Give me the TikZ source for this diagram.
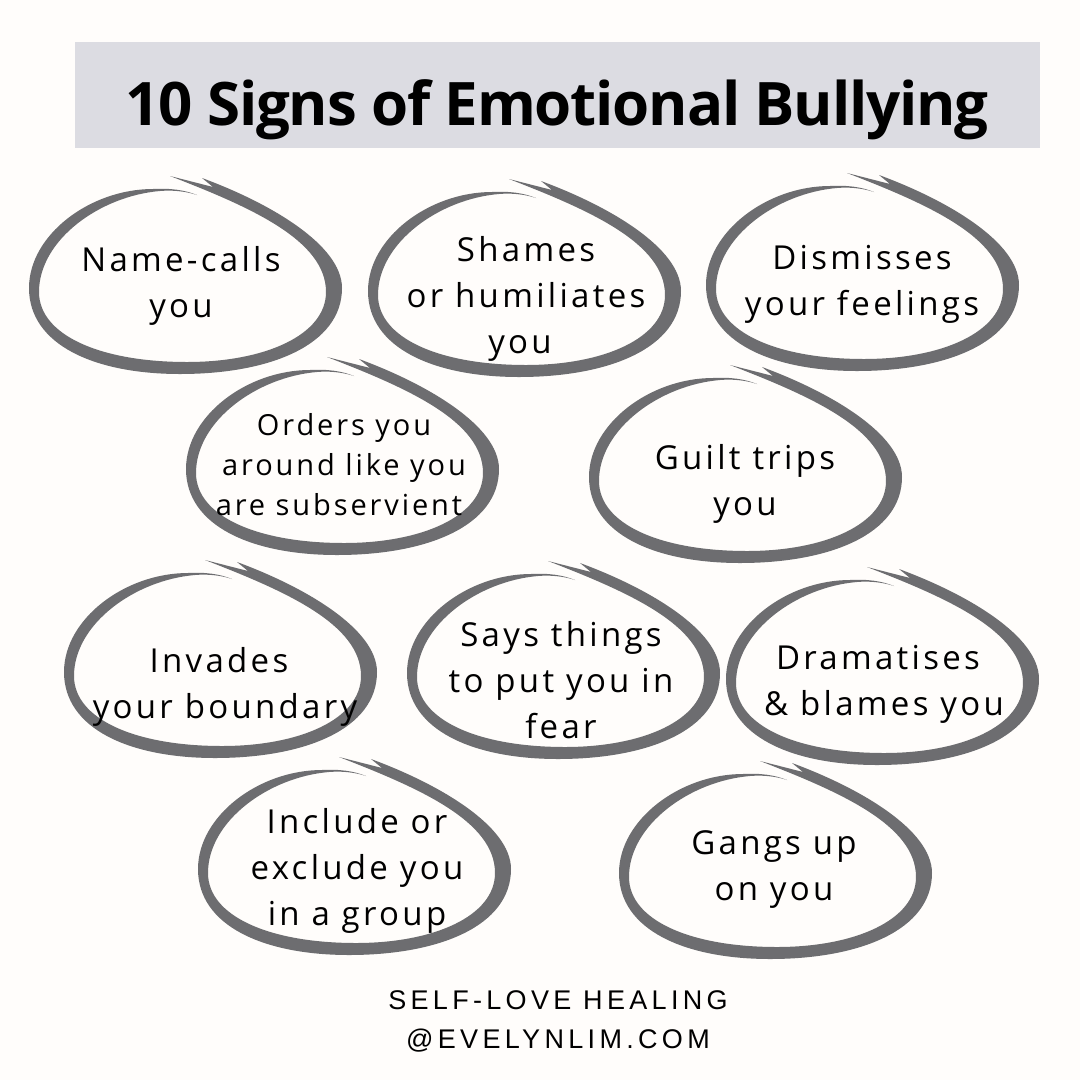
\documentclass[tikz,border=0pt]{standalone}
\usepackage{fontspec}
\setmainfont{Open Sans}
\newfontfamily\titlefont[LetterSpace=-2]{Open Sans}
\newfontfamily\signfont[LetterSpace=10]{Open Sans}
\newfontfamily\smallfont[LetterSpace=10]{Open Sans}
\newfontfamily\footfont[LetterSpace=16]{Liberation Sans}
\definecolor{paper}{HTML}{FFFDFB}
\definecolor{banner}{HTML}{DCDCE2}
\definecolor{ringgrey}{HTML}{6D6D70}
\newcommand{\tsp}{\hspace*{12pt}}
\tikzset{
  signtext/.style={align=center,text=black,inner sep=0pt,font=\signfont\fontsize{33}{46}\selectfont},
  smalltext/.style={align=center,text=black,inner sep=0pt,font=\smallfont\fontsize{29}{40}\selectfont},
  ring/.pic={
    \fill[ringgrey] (170,176) -- (213,187) -- (202,178)
      .. controls (270,203) and (342,245) .. (342,288)
      .. controls (342,345) and (270,374) .. (180,374)
      .. controls (95,374) and (29,345) .. (29,288)
      .. controls (29,235) and (90,189) .. (153,189)
      .. controls (170,188) and (185,190) .. (197,195)
      .. controls (185,191) and (172,190) .. (160,191)
      .. controls (100,196) and (39,240) .. (39,292)
      .. controls (39,335) and (100,362) .. (187,362)
      .. controls (265,362) and (326,335) .. (326,292)
      .. controls (326,240) and (250,207) .. (170,176)
      -- cycle;
  }
}
\begin{document}
\begin{tikzpicture}[x=1pt,y=-1pt]
  \useasboundingbox (0,0) rectangle (1080,1080);
  \fill[paper] (0,0) rectangle (1080,1080);

  \node[fill=banner,minimum width=965pt,minimum height=106pt,inner sep=0pt] (banner) at (557.5,95) {};
  \node[font=\titlefont\bfseries\fontsize{60}{70}\selectfont,text=black,inner sep=0pt] (title) at (557,110) {10 Signs of Emotional Bullying};

  \pic at (0,0) {ring};
  \pic at (339,3) {ring};
  \pic at (677,-3) {ring};
  \pic at (157,181) {ring};
  \pic at (560,189) {ring};
  \pic at (35,384) {ring};
  \pic at (378,385) {ring};
  \pic at (697,391) {ring};
  \pic at (169,581) {ring};
  \pic at (590,585) {ring};

  \node[signtext] (namecalls) at (181,286) {Name-calls\\you};
  \node[signtext] (shames) at (526,299) {Shames\\or humiliates\\you\tsp};
  \node[signtext] (dismisses) at (862,284) {Dismisses\\your feelings};
  \node[smalltext] (orders) at (344,465) {Orders you\\around like you\\are subservient\hspace*{10pt}};
  \node[signtext] (guilt) at (745,484) {Guilt trips\\you};
  \node[signtext] (invades) at (225,687) {Invades\tsp\\your boundary};
  \node[signtext] (says) at (561,680) {Says things\\to put you in\\fear};
  \node[signtext] (dramatises) at (884,684) {Dramatises\tsp\\\& blames you};
  \node[signtext] (include) at (357,871) {Include or\\exclude you\\in a group};
  \node[signtext] (gangs) at (774,870) {Gangs up\\on you};

  \node[align=center,inner sep=0pt,text=black,font=\footfont\fontsize{27}{39}\selectfont] (footer) at (558,1021) {SELF-LOVE HEALING\\@EVELYNLIM.COM};
\end{tikzpicture}
\end{document}
